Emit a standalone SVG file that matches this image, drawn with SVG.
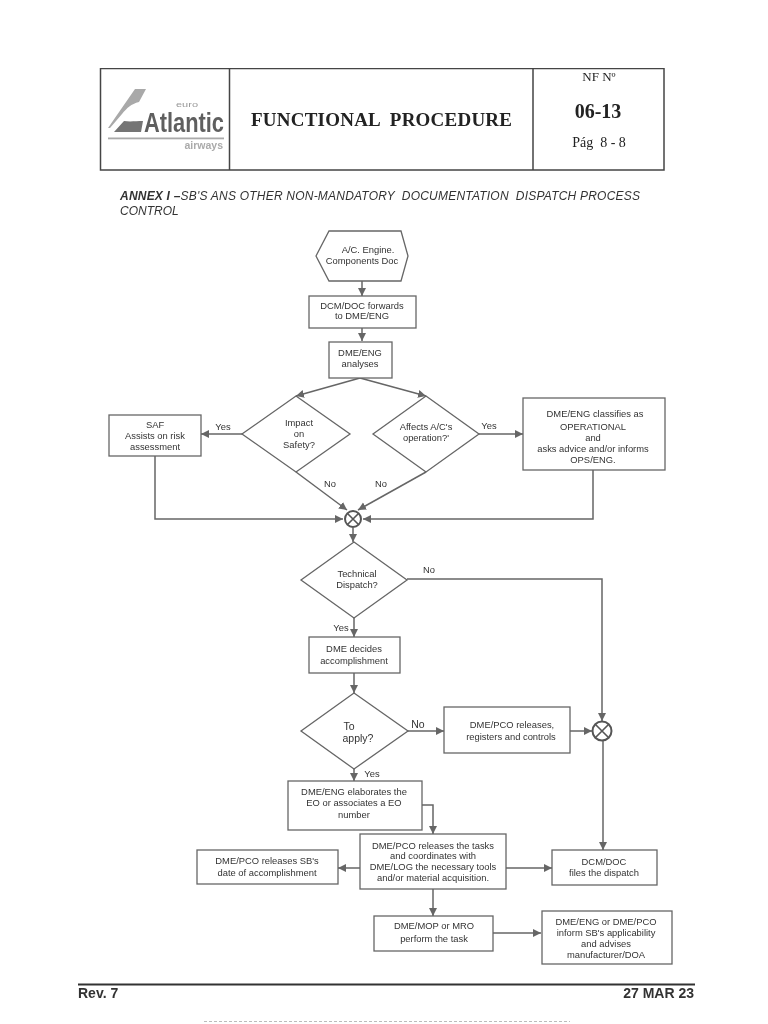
<svg xmlns="http://www.w3.org/2000/svg" width="768" height="1024" viewBox="0 0 768 1024">
<style>
.n{fill:#fff;stroke:#666;stroke-width:1.3}
.c{fill:none;stroke:#666;stroke-width:1.5}
.a{marker-end:url(#arrow)}
.t{font-family:"Liberation Sans",Arial,sans-serif;font-size:9.400px;fill:#333;text-anchor:middle}
.s{font-family:"Liberation Serif","Times New Roman",serif;fill:#222;text-anchor:middle}
.b{font-family:"Liberation Sans",Arial,sans-serif;fill:#333}
</style>
<defs>
<marker id="arrow" markerUnits="userSpaceOnUse" markerWidth="9" markerHeight="9" refX="8" refY="4" orient="auto"><path d="M0 0L8 4L0 8Z" fill="#666"/></marker>
<filter id="soft" x="0" y="0" width="100%" height="100%"><feGaussianBlur stdDeviation="0.35"/></filter>
</defs>
<rect width="768" height="1024" fill="#fff"/>
<g filter="url(#soft)">
<g id="header">
<rect x="100.500" y="68.500" width="563.500" height="101.500" fill="#fff" stroke="#444" stroke-width="1.500"/>
<path d="M229.500 68.500V170M533 68.500V170" stroke="#444" stroke-width="1.500" fill="none"/>
<path fill="#a9a9a9" d="M135 89H146L139 102C131 104 127 108 122 114L110 128H108Z"/>
<path fill="#757575" d="M114 132L124 121C130 122 136 121 143 121L141 132Z"/>
<text x="144" y="132" textLength="80" lengthAdjust="spacingAndGlyphs" style="font-family:'Liberation Sans',sans-serif;font-weight:bold;font-size:28px;fill:#5f5f5f">Atlantic</text>
<text x="176" y="107" textLength="22" lengthAdjust="spacingAndGlyphs" style="font-family:'Liberation Sans',sans-serif;font-size:8px;fill:#999">euro</text>
<rect x="108" y="137.500" width="116" height="1.800" fill="#aaa"/>
<text x="223" y="149" text-anchor="end" style="font-family:'Liberation Sans',sans-serif;font-weight:bold;font-size:10.500px;fill:#aaa">airways</text>
<text class="s" x="381.500" y="126" font-size="19" font-weight="bold" textLength="261" xml:space="preserve">FUNCTIONAL  PROCEDURE</text>
<text class="s" x="599" y="81" font-size="13">NF Nº</text>
<text class="s" x="598" y="118" font-size="20" font-weight="bold">06-13</text>
<text class="s" x="599" y="147" font-size="14" xml:space="preserve">Pág  8 - 8</text>
</g>
<text class="b" x="120" y="200" font-size="12" font-style="italic" textLength="520" xml:space="preserve"><tspan font-weight="bold">ANNEX I –</tspan>SB'S ANS OTHER NON-MANDATORY  DOCUMENTATION  DISPATCH PROCESS</text>
<text class="b" x="120" y="215" font-size="12" font-style="italic">CONTROL</text>

<g id="connectors">
<path class="c a" d="M362 281V296"/>
<path class="c a" d="M362 328V341"/>
<path class="c a" d="M360 378L296 396"/>
<path class="c a" d="M360 378L426 396"/>
<path class="c a" d="M242 434H201"/>
<path class="c a" d="M479 434H523"/>
<path class="c a" d="M296 472L347 510"/>
<path class="c a" d="M426 472L358 510"/>
<path class="c a" d="M155 456V519H343"/>
<path class="c a" d="M593 469V519H363"/>
<path class="c a" d="M353 528V542"/>
<path class="c a" d="M407 579H602V721"/>
<path class="c a" d="M354 618V637"/>
<path class="c a" d="M354 673V693"/>
<path class="c a" d="M408 731H444"/>
<path class="c a" d="M570 731H592"/>
<path class="c a" d="M354 769V781"/>
<path class="c a" d="M603 741V850"/>
<path class="c a" d="M422 805H433V834"/>
<path class="c a" d="M360 868H338"/>
<path class="c a" d="M506 868H552"/>
<path class="c a" d="M433 889V916"/>
<path class="c a" d="M493 933H541"/>
</g>

<g id="doc"><path class="n" d="M316 256L329 231H401L408 256L401 281H329Z"/><text class="t" x="368" y="253">A/C. Engine.</text><text class="t" x="362" y="264">Components Doc</text></g>
<g id="forward"><rect class="n" x="309" y="296" width="107" height="32"/><text class="t" x="362" y="309">DCM/DOC forwards</text><text class="t" x="362" y="319">to DME/ENG</text></g>
<g id="analyses"><rect class="n" x="329" y="342" width="63" height="36"/><text class="t" x="360" y="356">DME/ENG</text><text class="t" x="360" y="367">analyses</text></g>
<g id="safety"><path class="n" d="M296 396L350 434L296 472L242 434Z"/><text class="t" x="299" y="426">Impact</text><text class="t" x="299" y="437">on</text><text class="t" x="299" y="448">Safety?</text></g>
<g id="affects"><path class="n" d="M426 396L479 434L426 472L373 434Z"/><text class="t" x="426" y="430">Affects A/C's</text><text class="t" x="426" y="441">operation?'</text></g>
<g id="saf"><rect class="n" x="109" y="415" width="92" height="41"/><text class="t" x="155" y="428">SAF</text><text class="t" x="155" y="439">Assists on risk</text><text class="t" x="155" y="450">assessment</text></g>
<g id="classifies"><rect class="n" x="523" y="398" width="142" height="72"/><text class="t" x="595" y="417">DME/ENG classifies as</text><text class="t" x="593" y="430">OPERATIONAL</text><text class="t" x="593" y="441">and</text><text class="t" x="593" y="452">asks advice and/or informs</text><text class="t" x="593" y="463">OPS/ENG.</text></g>
<g id="merge1"><circle cx="353" cy="519" r="8" fill="#fff" stroke="#555" stroke-width="2"/><path d="M347.500 513.500L358.500 524.500M358.500 513.500L347.500 524.500" stroke="#555" stroke-width="1.600"/></g>
<g id="dispatch"><path class="n" d="M354 542L407 580L354 618L301 580Z"/><text class="t" x="357" y="577">Technical</text><text class="t" x="357" y="588">Dispatch?</text></g>
<g id="decides"><rect class="n" x="309" y="637" width="91" height="36"/><text class="t" x="354" y="652">DME decides</text><text class="t" x="354" y="664">accomplishment</text></g>
<g id="apply"><path class="n" d="M354 693L408 731L354 769L301 731Z"/><text class="t" x="349" y="730" style="font-size:10.500px">To</text><text class="t" x="358" y="742" style="font-size:10.500px">apply?</text></g>
<g id="registers"><rect class="n" x="444" y="707" width="126" height="46"/><text class="t" x="512" y="728">DME/PCO releases,</text><text class="t" x="511" y="740">registers and controls</text></g>
<g id="merge2"><circle cx="602" cy="731" r="9.500" fill="#fff" stroke="#555" stroke-width="2"/><path d="M595.500 724.500L608.500 737.500M608.500 724.500L595.500 737.500" stroke="#555" stroke-width="1.600"/></g>
<g id="elaborates"><rect class="n" x="288" y="781" width="134" height="49"/><text class="t" x="354" y="795">DME/ENG elaborates the</text><text class="t" x="354" y="806">EO or associates a EO</text><text class="t" x="354" y="818">number</text></g>
<g id="releases"><rect class="n" x="360" y="834" width="146" height="55"/><text class="t" x="433" y="849">DME/PCO releases the tasks</text><text class="t" x="433" y="859">and coordinates with</text><text class="t" x="433" y="870">DME/LOG the necessary tools</text><text class="t" x="433" y="881">and/or material acquisition.</text></g>
<g id="date"><rect class="n" x="197" y="850" width="141" height="34"/><text class="t" x="267" y="864">DME/PCO releases SB's</text><text class="t" x="267" y="876">date of accomplishment</text></g>
<g id="files"><rect class="n" x="552" y="850" width="105" height="35"/><text class="t" x="604" y="865">DCM/DOC</text><text class="t" x="604" y="876">files the dispatch</text></g>
<g id="perform"><rect class="n" x="374" y="916" width="119" height="35"/><text class="t" x="434" y="929">DME/MOP or MRO</text><text class="t" x="434" y="942">perform the task</text></g>
<g id="inform"><rect class="n" x="542" y="911" width="130" height="53"/><text class="t" x="606" y="925">DME/ENG or DME/PCO</text><text class="t" x="606" y="936">inform SB's applicability</text><text class="t" x="606" y="947">and advises</text><text class="t" x="606" y="958">manufacturer/DOA</text></g>

<g id="labels">
<text class="t" x="223" y="430">Yes</text><text class="t" x="489" y="429">Yes</text><text class="t" x="330" y="487">No</text><text class="t" x="381" y="487">No</text>
<text class="t" x="429" y="573">No</text><text class="t" x="341" y="631">Yes</text>
<text class="t" x="418" y="728" style="font-size:10.500px">No</text><text class="t" x="372" y="777">Yes</text>
</g>
<g id="footer">
<path d="M78 984.500H695" stroke="#333" stroke-width="1.800"/>
<text class="b" x="78" y="998" font-size="14" font-weight="bold">Rev. 7</text>
<text class="b" x="694" y="998" font-size="14" font-weight="bold" text-anchor="end">27 MAR 23</text>
<path d="M204 1022H570" stroke="#bbb" stroke-width="2" stroke-dasharray="3 2"/>
</g>
</g>
</svg>
